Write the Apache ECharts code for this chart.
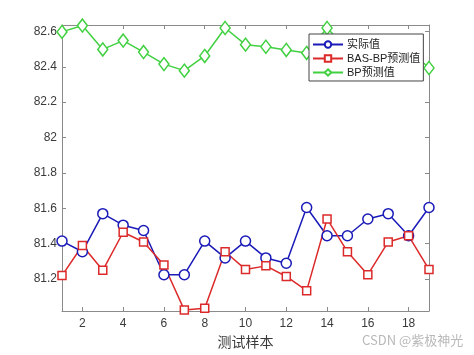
<!DOCTYPE html>
<html>
<head>
<meta charset="utf-8">
<script src="https://cdn.jsdelivr.net/npm/echarts@6/dist/echarts.min.js"></script>
<style>html,body{margin:0;padding:0;background:#fff}#c{width:474px;height:355px}</style>
</head>
<body>
<div id="c"></div>
<script>
// Data
var samples = [1,2,3,4,5,6,7,8,9,10,11,12,13,14,15,16,17,18,19];
var actual = [81.415,81.355,81.57,81.505,81.475,81.225,81.225,81.415,81.32,81.415,81.32,81.29,81.605,81.445,81.445,81.54,81.57,81.445,81.605];
var basbp = [81.22,81.39,81.25,81.465,81.41,81.28,81.025,81.035,81.355,81.255,81.275,81.215,81.135,81.54,81.355,81.225,81.41,81.445,81.255];
var bp = [82.597,82.633,82.498,82.548,82.483,82.415,82.378,82.461,82.619,82.525,82.513,82.495,82.478,82.619,82.50,82.49,82.52,82.50,82.393];
var xTicks = [2,4,6,8,10,12,14,16,18];
var yTicks = [81.2,81.4,81.6,81.8,82,82.2,82.4,82.6];
var names = ['实际值','BAS-BP预测值','BP预测值'];
var xName = '测试样本';

function pairs(v){ return samples.map(function(s,i){ return [s, v[i]]; }); }

var font = 'Liberation Sans, Arial, Noto Sans CJK SC, sans-serif';
var axisColor = '#8a8a8a';
var labelColor = '#3a3a3a';
var xMin = 1, xMax = 19, yMin = 81.02, yMax = 82.636;

function xAx(pos, show){
  return {
    type:'value', position:pos, min:xMin, max:xMax,
    name: show ? xName : '', nameLocation:'middle', nameGap:25,
    nameTextStyle:{fontFamily:font, fontSize:14, color:labelColor},
    axisLine:{show:true, onZero:false, lineStyle:{color:axisColor, width:1}},
    axisTick:{show:true, inside:true, length:4, customValues:xTicks, lineStyle:{color:axisColor}},
    axisLabel:{show:show, customValues:xTicks, margin:7, fontFamily:font, fontSize:12, color:labelColor},
    splitLine:{show:false}
  };
}
function yAx(pos, show){
  return {
    type:'value', position:pos, min:yMin, max:yMax,
    axisLine:{show:true, onZero:false, lineStyle:{color:axisColor, width:1}},
    axisTick:{show:true, inside:true, length:4, customValues:yTicks, lineStyle:{color:axisColor}},
    axisLabel:{show:show, customValues:yTicks, margin:5, fontFamily:font, fontSize:12, color:labelColor,
      formatter:function(v){ return String(Math.round(v*10)/10); }},
    splitLine:{show:false}
  };
}

var chart = echarts.init(document.getElementById('c'), null, {renderer:'canvas'});
chart.setOption({
  animation:false,
  backgroundColor:'#fff',
  grid:{left:62, right:45, top:25, bottom:40, containLabel:false},
  xAxis:[xAx('bottom', true), xAx('top', false)],
  yAxis:[yAx('left', true), yAx('right', false)],
  legend:{
    left:309, top:34, orient:'vertical',
    backgroundColor:'#fff', borderColor:'#444', borderWidth:1,
    padding:[5,3,3,3], itemGap:3, itemWidth:30, itemHeight:8,
    textStyle:{fontFamily:font, fontSize:11, color:'#222', padding:[0,0,0,-1]},
    data:names
  },
  series:[
    {name:names[0], type:'line', data:pairs(actual), symbol:'circle', symbolSize:10,
     showAllSymbol:true,
     lineStyle:{color:'#1a1ab8', width:1.5},
     itemStyle:{color:'#fff', borderColor:'#1a1ab8', borderWidth:1.5}},
    {name:names[1], type:'line', data:pairs(basbp), symbol:'rect', symbolSize:8,
     showAllSymbol:true,
     lineStyle:{color:'#dc2a2a', width:1.5},
     itemStyle:{color:'#fff', borderColor:'#dc2a2a', borderWidth:1.5}},
    {name:names[2], type:'line', data:pairs(bp), symbol:'diamond', symbolSize:[10,13],
     showAllSymbol:true,
     lineStyle:{color:'#40d040', width:1.5},
     itemStyle:{color:'#fff', borderColor:'#40d040', borderWidth:1.5}}
  ],
  graphic:[{type:'text', left:362, top:334, style:{text:'CSDN @紫极神光', fill:'rgba(160,160,160,0.75)', font:'13px Noto Sans CJK SC, sans-serif'}}]
});
</script>
</body>
</html>
